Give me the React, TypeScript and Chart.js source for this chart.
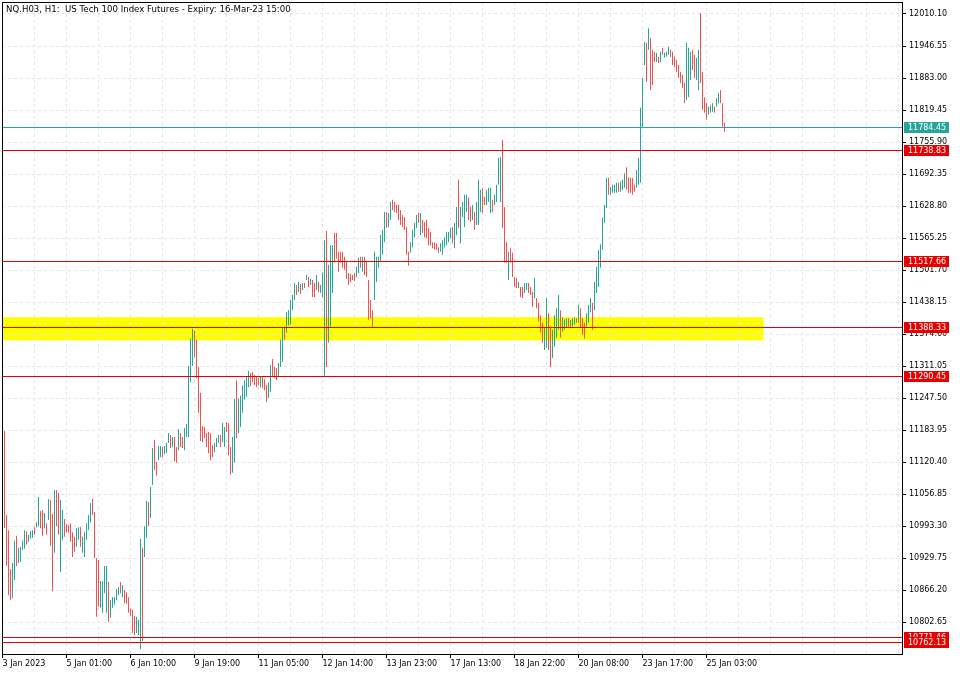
import React, { useEffect, useRef } from 'react';
import { Chart, registerables } from 'chart.js';

Chart.register(...registerables);

const TITLE = 'NQ.H03, H1:  US Tech 100 Index Futures - Expiry: 16-Mar-23 15:00';

// Hourly bars, 3 Jan 2023 -> 25 Jan 2023 (open of each bar = previous close)
const firstOpen = 11174;

const highs = [
  11182, 11015, 10985, 10908, 10920, 10964, 10974, 10950, 10952, 10964,
  10985, 10983, 10976, 10983, 10985, 10991, 11001, 11051, 11023, 11025,
  11019, 10999, 11047, 11045, 11017, 11065, 11065, 11059, 11045, 11025,
  11007, 10997, 10995, 10999, 10981, 10972, 10989, 10991, 10991, 10972,
  10981, 10999, 11015, 11039, 11047, 11021, 10930, 10926, 10884, 10884,
  10914, 10914, 10882, 10846, 10852, 10852, 10868, 10872, 10882, 10876,
  10866, 10862, 10852, 10829, 10827, 10815, 10813, 10807, 10968, 10950,
  10993, 11043, 11041, 11071, 11148, 11164, 11121, 11152, 11152, 11150,
  11152, 11158, 11178, 11174, 11170, 11170, 11150, 11186, 11178, 11170,
  11188, 11196, 11311, 11365, 11385, 11381, 11363, 11309, 11258, 11192,
  11190, 11178, 11180, 11178, 11154, 11158, 11168, 11174, 11174, 11198,
  11190, 11200, 11198, 11150, 11170, 11246, 11283, 11246, 11252, 11273,
  11283, 11291, 11301, 11297, 11299, 11293, 11289, 11287, 11289, 11289,
  11285, 11273, 11279, 11313, 11325, 11309, 11307, 11317, 11363, 11389,
  11389, 11418, 11422, 11442, 11452, 11476, 11472, 11478, 11474, 11476,
  11476, 11492, 11488, 11484, 11482, 11476, 11492, 11478, 11472, 11496,
  11561, 11579, 11512, 11551, 11551, 11575, 11575, 11538, 11538, 11538,
  11528, 11518, 11496, 11494, 11492, 11496, 11508, 11526, 11528, 11528,
  11528, 11518, 11482, 11442, 11422, 11538, 11528, 11528, 11571, 11581,
  11617, 11617, 11615, 11637, 11641, 11637, 11631, 11631, 11621, 11611,
  11607, 11587, 11538, 11557, 11581, 11595, 11611, 11615, 11615, 11601,
  11597, 11601, 11585, 11577, 11557, 11557, 11555, 11547, 11555, 11561,
  11567, 11577, 11577, 11585, 11587, 11595, 11627, 11681, 11627, 11637,
  11651, 11651, 11645, 11627, 11631, 11617, 11637, 11681, 11661, 11665,
  11647, 11661, 11665, 11665, 11641, 11651, 11671, 11724, 11726, 11760,
  11627, 11557, 11538, 11545, 11536, 11488, 11486, 11478, 11468, 11468,
  11476, 11476, 11476, 11468, 11458, 11486, 11446, 11436, 11412, 11397,
  11387, 11446, 11416, 11389, 11383, 11412, 11426, 11452, 11422, 11408,
  11404, 11406, 11406, 11403, 11406, 11408, 11406, 11432, 11426, 11406,
  11397, 11416, 11432, 11446, 11436, 11478, 11508, 11542, 11553, 11605,
  11631, 11685, 11685, 11667, 11671, 11671, 11675, 11675, 11677, 11681,
  11694, 11706, 11686, 11685, 11685, 11671, 11700, 11724, 11824, 11883,
  11955, 11953, 11982, 11963, 11939, 11935, 11933, 11925, 11935, 11943,
  11933, 11935, 11945, 11939, 11935, 11925, 11919, 11909, 11895, 11889,
  11873, 11953, 11943, 11935, 11939, 11929, 11923, 11939, 12012, 11895,
  11845, 11833, 11826, 11829, 11833, 11826, 11843, 11853, 11859, 11833,
  11794,
];

const lows = [
  10989, 10914, 10856, 10846, 10850, 10886, 10914, 10920, 10922, 10946,
  10948, 10956, 10962, 10968, 10970, 10976, 10991, 10993, 10989, 10974,
  10989, 10976, 11005, 10954, 10864, 10940, 10993, 10976, 10902, 10966,
  10972, 10981, 10980, 10962, 10932, 10942, 10952, 10966, 10952, 10940,
  10932, 10966, 10985, 11001, 11015, 10930, 10813, 10833, 10831, 10821,
  10860, 10821, 10803, 10811, 10831, 10837, 10846, 10856, 10860, 10852,
  10840, 10839, 10821, 10815, 10781, 10777, 10781, 10777, 10749, 10765,
  10932, 10970, 10993, 11009, 11075, 11105, 11093, 11124, 11130, 11130,
  11136, 11138, 11158, 11148, 11150, 11122, 11119, 11144, 11150, 11148,
  11144, 11170, 11170, 11279, 11311, 11329, 11287, 11218, 11162, 11160,
  11168, 11150, 11138, 11124, 11130, 11140, 11150, 11158, 11150, 11160,
  11150, 11180, 11134, 11095, 11099, 11119, 11168, 11178, 11190, 11218,
  11244, 11250, 11269, 11271, 11279, 11273, 11269, 11273, 11269, 11267,
  11263, 11240, 11248, 11260, 11289, 11287, 11283, 11291, 11309, 11319,
  11363, 11377, 11391, 11393, 11422, 11442, 11452, 11458, 11454, 11462,
  11466, 11482, 11468, 11472, 11448, 11448, 11462, 11458, 11456, 11448,
  11289, 11309, 11357, 11389, 11456, 11516, 11524, 11498, 11516, 11506,
  11502, 11484, 11472, 11478, 11482, 11480, 11488, 11496, 11506, 11498,
  11492, 11488, 11403, 11406, 11389, 11442, 11478, 11506, 11518, 11532,
  11557, 11585, 11587, 11601, 11621, 11617, 11615, 11601, 11591, 11587,
  11581, 11532, 11510, 11536, 11547, 11567, 11585, 11595, 11571, 11575,
  11567, 11565, 11551, 11551, 11545, 11542, 11542, 11536, 11538, 11532,
  11547, 11551, 11557, 11565, 11555, 11545, 11571, 11585, 11555, 11607,
  11587, 11617, 11601, 11597, 11601, 11581, 11591, 11591, 11617, 11615,
  11631, 11631, 11637, 11615, 11617, 11631, 11637, 11671, 11637, 11585,
  11516, 11516, 11482, 11516, 11488, 11468, 11466, 11466, 11448, 11446,
  11456, 11462, 11456, 11452, 11428, 11446, 11426, 11399, 11377, 11357,
  11343, 11347, 11343, 11309, 11327, 11349, 11367, 11383, 11367, 11379,
  11383, 11387, 11389, 11389, 11389, 11393, 11397, 11397, 11387, 11373,
  11365, 11389, 11397, 11418, 11383, 11422, 11456, 11468, 11506, 11542,
  11595, 11625, 11651, 11651, 11655, 11655, 11655, 11657, 11657, 11661,
  11665, 11661, 11655, 11655, 11651, 11657, 11665, 11671, 11675, 11786,
  11909, 11875, 11939, 11859, 11869, 11915, 11915, 11913, 11915, 11929,
  11923, 11925, 11929, 11925, 11909, 11905, 11895, 11883, 11873, 11863,
  11833, 11839, 11845, 11879, 11899, 11883, 11879, 11859, 11873, 11820,
  11814, 11800, 11810, 11814, 11816, 11814, 11826, 11833, 11833, 11786,
  11776,
];

const closes = [
  11005, 10926, 10866, 10856, 10910, 10950, 10926, 10944, 10948, 10960,
  10978, 10964, 10972, 10980, 10983, 10978, 10999, 11039, 10997, 10985,
  11011, 10981, 11037, 10970, 10896, 11045, 11005, 10989, 11015, 11021,
  10989, 10983, 10981, 10970, 10950, 10946, 10981, 10985, 10960, 10966,
  10976, 10991, 11009, 11031, 11021, 10946, 10837, 10835, 10874, 10878,
  10906, 10910, 10823, 10839, 10846, 10850, 10862, 10868, 10864, 10872,
  10846, 10840, 10827, 10819, 10791, 10783, 10805, 10807, 10950, 10936,
  10985, 11033, 11005, 11061, 11134, 11115, 11101, 11144, 11150, 11136,
  11148, 11154, 11172, 11156, 11166, 11132, 11124, 11178, 11156, 11152,
  11180, 11190, 11283, 11353, 11373, 11343, 11303, 11234, 11184, 11174,
  11170, 11156, 11146, 11132, 11130, 11152, 11164, 11170, 11156, 11184,
  11188, 11182, 11148, 11109, 11158, 11224, 11194, 11234, 11244, 11263,
  11277, 11283, 11295, 11285, 11283, 11279, 11277, 11275, 11283, 11271,
  11267, 11248, 11271, 11303, 11295, 11291, 11287, 11311, 11353, 11379,
  11369, 11410, 11416, 11434, 11446, 11468, 11456, 11472, 11460, 11472,
  11468, 11488, 11472, 11480, 11456, 11450, 11484, 11464, 11468, 11486,
  11542, 11363, 11482, 11522, 11538, 11526, 11524, 11522, 11518, 11512,
  11506, 11494, 11490, 11486, 11482, 11480, 11502, 11518, 11510, 11522,
  11498, 11492, 11418, 11410, 11399, 11518, 11522, 11526, 11561, 11571,
  11605, 11591, 11609, 11631, 11625, 11619, 11617, 11607, 11597, 11591,
  11587, 11542, 11516, 11551, 11573, 11589, 11605, 11599, 11609, 11581,
  11573, 11569, 11557, 11553, 11547, 11544, 11542, 11538, 11551, 11555,
  11563, 11571, 11575, 11581, 11561, 11585, 11617, 11597, 11617, 11631,
  11641, 11647, 11611, 11603, 11625, 11589, 11627, 11651, 11657, 11641,
  11633, 11655, 11661, 11665, 11623, 11647, 11665, 11714, 11720, 11601,
  11532, 11522, 11530, 11520, 11496, 11472, 11468, 11476, 11454, 11450,
  11470, 11474, 11460, 11454, 11434, 11478, 11430, 11406, 11383, 11363,
  11379, 11432, 11355, 11327, 11373, 11403, 11416, 11442, 11379, 11403,
  11404, 11406, 11393, 11401, 11404, 11406, 11399, 11426, 11393, 11379,
  11369, 11410, 11426, 11442, 11393, 11468, 11498, 11530, 11547, 11593,
  11625, 11673, 11657, 11663, 11667, 11669, 11671, 11661, 11673, 11677,
  11688, 11669, 11665, 11661, 11659, 11657, 11692, 11716, 11800, 11869,
  11943, 11889, 11972, 11939, 11929, 11919, 11929, 11917, 11931, 11929,
  11933, 11935, 11941, 11929, 11915, 11909, 11899, 11887, 11877, 11867,
  11839, 11929, 11931, 11935, 11909, 11895, 11915, 11929, 11889, 11835,
  11820, 11806, 11824, 11827, 11831, 11818, 11839, 11849, 11839, 11800,
  11784.45,
];

const yTickValues = [
  10802.65, 10866.2, 10929.75, 10993.3, 11056.85, 11120.4, 11183.95, 11247.5,
  11311.05, 11374.6, 11438.15, 11501.7, 11565.25, 11628.8, 11692.35, 11755.9,
  11819.45, 11883.0, 11946.55, 12010.1,
];

const xTickBars = [-1, 31, 63, 95, 127, 159, 191, 223, 255, 287, 319, 351];
const xTickLabels = [
  '3 Jan 2023', '5 Jan 01:00', '6 Jan 10:00', '9 Jan 19:00', '11 Jan 05:00',
  '12 Jan 14:00', '13 Jan 23:00', '17 Jan 13:00', '18 Jan 22:00',
  '20 Jan 08:00', '23 Jan 17:00', '25 Jan 03:00',
];

const levelValues = [11738.83, 11517.66, 11388.33, 11290.45, 10771.46, 10762.13];

const zoneTop = 11408;
const zoneBottom = 11362;
const zoneEndBar = 379.5;

const UP = '#26a69a';
const DOWN = '#ef5350';
const LEVEL = '#e80000';
const GRID = '#e4e4e4';
const FONT = 'DejaVu Sans';

export default function App() {
  const ref = useRef<HTMLCanvasElement | null>(null);

  useEffect(() => {
    const canvas = ref.current;
    if (!canvas) return;

    const opens = [firstOpen, ...closes.slice(0, -1)];
    const colors = closes.map((c, i) => (c >= opens[i] ? UP : DOWN));
    const barData = highs.map((h, i) => ({ x: i, y: [lows[i], h] }));

    const gridBars: number[] = [-1];
    for (let b = 15; b < 449; b += 16) gridBars.push(b);

    const overlay = {
      id: 'mtOverlay',
      beforeDraw(chart: any) {
        const { ctx, chartArea: a, scales } = chart;
        const xs = scales.x;
        const ys = scales.y;
        const yTop = ys.getPixelForValue(zoneTop);
        const yBot = ys.getPixelForValue(zoneBottom);
        const xEnd = xs.getPixelForValue(zoneEndBar);
        ctx.save();
        ctx.fillStyle = '#ffff00';
        ctx.fillRect(a.left, yTop, xEnd - a.left, yBot - yTop);
        ctx.restore();
      },
      afterDatasetsDraw(chart: any) {
        const { ctx, chartArea: a, scales } = chart;
        const ys = scales.y;
        ctx.save();
        ctx.beginPath();
        ctx.rect(a.left, a.top, a.right - a.left, a.bottom - a.top);
        ctx.clip();
        ctx.lineWidth = 1;
        const drawH = (v: number, col: string) => {
          const y = Math.floor(ys.getPixelForValue(v)) + 0.5;
          ctx.strokeStyle = col;
          ctx.beginPath();
          ctx.moveTo(a.left, y);
          ctx.lineTo(a.right, y);
          ctx.stroke();
        };
        levelValues.forEach((v) => drawH(v, LEVEL));
        drawH(closes[closes.length - 1], UP);
        ctx.restore();
      },
      afterDraw(chart: any) {
        const { ctx, chartArea: a, scales } = chart;
        const ys = scales.y;
        ctx.save();
        ctx.strokeStyle = '#000';
        ctx.lineWidth = 1;
        ctx.strokeRect(a.left + 0.5, a.top + 0.5, a.right - a.left, a.bottom - a.top);
        ctx.fillStyle = '#000';
        ctx.font = `8.6px "${FONT}"`;
        ctx.textBaseline = 'middle';
        ctx.textAlign = 'left';
        ctx.fillText(TITLE, 6, 10);
        ctx.font = `8px "${FONT}"`;
        const label = (v: number, col: string) => {
          const py = Math.floor(ys.getPixelForValue(v));
          ctx.fillStyle = col;
          ctx.fillRect(a.right + 2, py - 5, 45, 11);
          ctx.fillStyle = '#fff';
          ctx.fillText(v.toFixed(2), a.right + 6, py + 0.5);
        };
        levelValues.forEach((v) => label(v, LEVEL));
        label(closes[closes.length - 1], UP);
        ctx.restore();
      },
    };

    const chart = new Chart(canvas, {
      type: 'bar',
      data: {
        datasets: [
          {
            data: barData as any,
            backgroundColor: colors,
            borderWidth: 0,
            barThickness: 1,
            inflateAmount: 0,
            grouped: false,
          } as any,
        ],
      },
      options: {
        responsive: false,
        animation: false,
        devicePixelRatio: 1,
        events: [],
        layout: { padding: { left: 2, top: 2, right: 0, bottom: 0 } },
        plugins: {
          legend: { display: false },
          tooltip: { enabled: false },
          title: { display: false },
        },
        scales: {
          x: {
            type: 'linear',
            min: -1.25,
            max: 448.75,
            offset: false,
            afterBuildTicks: (s: any) => {
              s.ticks = gridBars.map((v) => ({ value: v }));
            },
            afterFit: (s: any) => {
              s.height = 21;
              s.paddingLeft = 0;
              s.paddingRight = 0;
            },
            grid: {
              offset: false,
              color: GRID,
              lineWidth: 1,
              drawTicks: true,
              tickLength: 4,
              tickWidth: 1,
              tickColor: (ctx: any) =>
                ctx.tick && xTickBars.includes(ctx.tick.value) ? '#000' : 'rgba(0,0,0,0)',
            },
            border: { display: false, dash: [3, 3] },
            ticks: {
              autoSkip: false,
              maxRotation: 0,
              minRotation: 0,
              align: 'start',
              padding: 1,
              color: '#000',
              font: { family: FONT, size: 8 },
              callback: (v: any) => {
                const k = xTickBars.indexOf(Number(v));
                return k >= 0 ? xTickLabels[k] : '';
              },
            },
          } as any,
          y: {
            type: 'linear',
            position: 'right',
            min: 10739.14,
            max: 12033.93,
            beginAtZero: false,
            afterBuildTicks: (s: any) => {
              s.ticks = yTickValues.map((v) => ({ value: v }));
            },
            afterFit: (s: any) => {
              s.width = 58;
              s.paddingTop = 0;
              s.paddingBottom = 0;
            },
            grid: {
              color: GRID,
              lineWidth: 1,
              drawTicks: true,
              tickLength: 4,
              tickWidth: 1,
              tickColor: '#000',
            },
            border: { display: false, dash: [3, 3] },
            ticks: {
              padding: 3,
              color: '#000',
              font: { family: FONT, size: 8 },
              callback: (v: any) => Number(v).toFixed(2),
            },
          } as any,
        },
      },
      plugins: [overlay as any],
    });

    return () => chart.destroy();
  }, []);

  return (
    <div style={{ position: 'absolute', left: 0, top: 0, width: 960, height: 675, background: '#fff' }}>
      <canvas ref={ref} width={960} height={675} style={{ display: 'block' }} />
    </div>
  );
}
